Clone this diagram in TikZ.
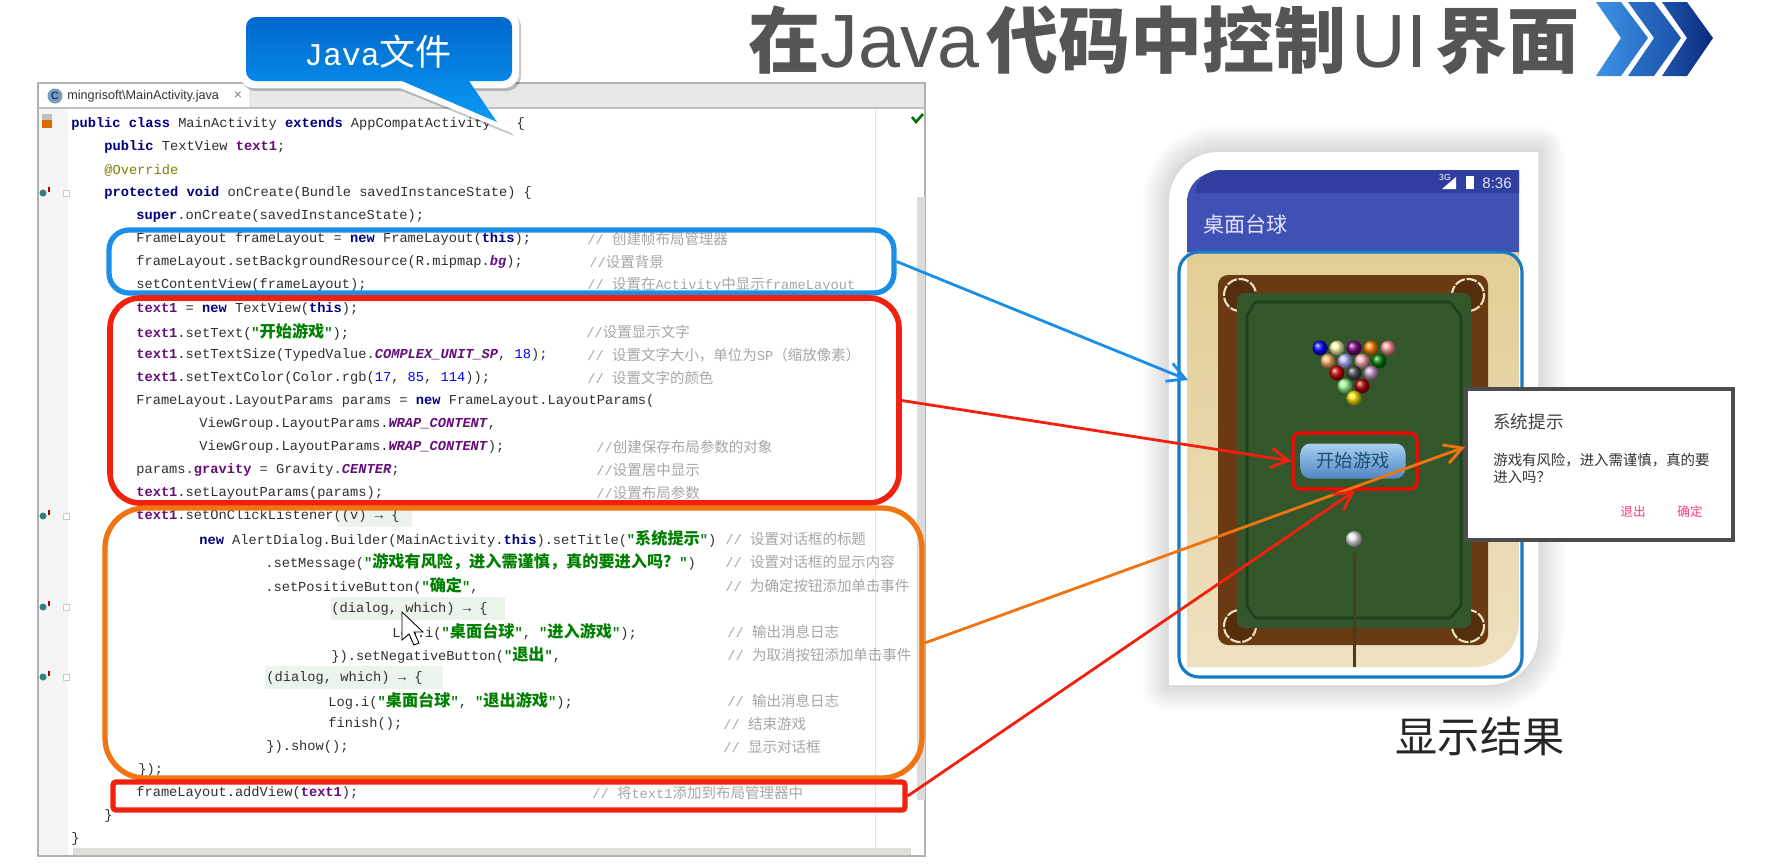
\documentclass[tikz,border=0pt]{standalone}
\usepackage{fontspec}
\setmainfont{Liberation Sans}
\setmonofont{Liberation Mono}
\newfontfamily\cjk{Noto Sans CJK SC}
\usetikzlibrary{arrows.meta,fit}

\definecolor{codekw}{HTML}{000080}
\definecolor{codefld}{HTML}{660E7A}
\definecolor{codestr}{HTML}{008000}
\definecolor{codenum}{HTML}{0000FF}
\definecolor{codenote}{HTML}{A6A6A6}
\definecolor{codeanno}{HTML}{808000}
\definecolor{codeink}{HTML}{303030}
\definecolor{bluebox}{HTML}{1A8FE8}
\definecolor{redbox}{HTML}{F2200F}
\definecolor{orangebox}{HTML}{F0740F}
\definecolor{titlegrey}{HTML}{555555}
\definecolor{wood}{HTML}{6A3A12}
\definecolor{felt}{HTML}{33572B}
\definecolor{feltdark}{HTML}{1E3F1B}
\definecolor{sand}{HTML}{E3CD96}
\definecolor{appbar}{HTML}{3F51B5}
\definecolor{statusbar}{HTML}{303F9F}
\definecolor{cuestick}{HTML}{4A3A22}
\definecolor{chevA}{HTML}{3D92E6}
\definecolor{chevB}{HTML}{2A70C8}
\definecolor{chevC}{HTML}{1D55AC}
\definecolor{chevD}{HTML}{0B2A7C}
\definecolor{calloutTop}{HTML}{0068CC}
\definecolor{calloutLow}{HTML}{0A9AF5}
\definecolor{btnTop}{HTML}{A8CFF0}
\definecolor{btnLow}{HTML}{4F86C4}
\definecolor{btnInk}{HTML}{1B4E72}
\definecolor{dlgpink}{HTML}{FF4081}

\newcommand{\kw}[1]{\textcolor{codekw}{\textbf{#1}}}
\newcommand{\fd}[1]{\textcolor{codefld}{\textbf{#1}}}
\newcommand{\fdi}[1]{\textcolor{codefld}{\textbf{\textit{#1}}}}
\newcommand{\nm}[1]{\textcolor{codenum}{#1}}
\newcommand{\st}[1]{\textcolor{codestr}{\textbf{"{\fontsize{9.2}{10}\cjk\bfseries #1}"}}}
\newcommand{\zc}[1]{{\fontsize{8.25}{10}\cjk #1}}
\newcommand{\phoneoutline}{(1169,685) [rounded corners=1cm] -- (1169,152) [sharp corners] -- (1538,152) [rounded corners=1cm] -- (1538,685) [sharp corners] -- cycle}
\newcommand{\calloutoutline}{(402,81) [rounded corners=0.2cm] -- (246,81) -- (246,17) -- (512,17) -- (512,81) [sharp corners] -- (469,81) -- (497,122) -- cycle}
\newcommand{\calloutframe}{(400,88) [rounded corners=0.3cm] -- (239,88) -- (239,9) -- (519,9) -- (519,88) [sharp corners] -- (469,88) -- (512,133) -- cycle}

\tikzset{
  code/.style={anchor=west, inner sep=0pt, text=codeink, font=\fontsize{7.8}{10}\ttfamily},
  note/.style={anchor=west, inner sep=0pt, text=codenote, font=\fontsize{7.8}{10}\ttfamily},
  box/.style={draw, inner sep=0pt, fill=none},
  flow/.style={-{Straight Barb[length=10pt,width=11pt,line width=1.6pt]}, line width=1.6pt},
  gutterdot/.style={circle, fill=teal!60!gray, inner sep=0pt, minimum size=4pt},
  ball/.style={circle, inner sep=0pt, minimum size=8.5pt, shade, draw=none},
}

\begin{document}
\begin{tikzpicture}[x=0.02cm,y=-0.02cm]
    \useasboundingbox (0,0) rectangle (1768,867);
    % page title
    \node[anchor=west, inner sep=0pt, text=titlegrey, font=\fontsize{41}{44}\selectfont] (pagetitle) at (748,40)
        {{\cjk\bfseries 在}\fontsize{43}{44}\selectfont Java\kern3.5pt{\fontsize{41}{44}\cjk\bfseries 代码中控制}\kern3pt UI\kern5pt{\fontsize{41}{44}\cjk\bfseries 界面}};
    \shade[left color=chevA, right color=chevB]
        (1596,2) -- (1621,2) -- (1648,38) -- (1621,76) -- (1596,76) -- (1621,38) -- cycle;
    \shade[left color=chevB, right color=chevC]
        (1628,2) -- (1654,2) -- (1681,38) -- (1654,76) -- (1628,76) -- (1654,38) -- cycle;
    \shade[left color=chevC, right color=chevD]
        (1662,2) -- (1687,2) -- (1713,38) -- (1687,76) -- (1662,76) -- (1687,38) -- cycle;

    % editor window
    \draw[gray!60, line width=1pt, fill=white] (38,83) rectangle (925,856);
    \fill[black!9] (249,84) rectangle (924,107);
    \draw[gray!50, line width=1pt] (38,108) -- (925,108);
    \fill[black!4] (39,109) rectangle (68,855);
    \draw[black!10] (875,109) -- (875,848);
    \fill[black!14] (917,197) rectangle (924.5,800);
    \fill[yellow!10!black!16] (73,848) rectangle (911,855);
    \draw[green!45!black, line width=1.5pt] (912,117) -- (916,122) -- (923,114);
    \fill[cyan!35!gray] (55,96) circle (7.5);
    \node[inner sep=0pt, text=blue!50!black, font=\fontsize{6}{7}\selectfont] (tabicon) at (55,96) {C};
    \node[anchor=west, inner sep=0pt, text=black!80, font=\fontsize{7.2}{9}\selectfont] (tabname) at (67,96) {mingrisoft\textbackslash MainActivity.java};
    \node[inner sep=0pt, text=gray, font=\fontsize{8}{9}\selectfont] (tabclose) at (238,96) {×};

    % gutter marks
    \fill[gray!50] (42,114) rectangle (52,120);
    \fill[orange!85!black] (42,120) rectangle (52,128);
    \node[gutterdot] (mark3) at (43,193) {};
    \node[gutterdot] (mark17) at (43,516) {};
    \node[gutterdot] (mark21) at (43,607) {};
    \node[gutterdot] (mark24) at (43,677) {};
    \foreach \y in {193,516,607,677} {
        \draw[red!70!black, line width=0.6pt] (49,\y-6) -- (49,\y-1);
        \draw[black!20, fill=white] (63,\y-3) rectangle (69,\y+3);
    }

    % lambda highlights
    \fill[green!30!gray!12] (338,506) rectangle (412,527);
    \fill[green!30!gray!12] (331,597) rectangle (505,620);
    \fill[green!30!gray!12] (265,666) rectangle (443,689);

    % code
    \node[code] (line0) at (71,124) {\kw{public class} MainActivity \kw{extends} AppCompatActivity \kern10pt\{};
    \node[code] (line1) at (104,147) {\kw{public} TextView \fd{text1};};
    \node[code, text=codeanno] (line2) at (104,170) {@Override};
    \node[code] (line3) at (104,193) {\kw{protected void} onCreate(Bundle savedInstanceState) \{};
    \node[code] (line4) at (136,216) {\kw{super}.onCreate(savedInstanceState);};
    \node[code] (line5) at (136,239) {FrameLayout frameLayout = \kw{new} FrameLayout(\kw{this});};
    \node[code] (line6) at (136,262) {frameLayout.setBackgroundResource(R.mipmap.\fdi{bg});};
    \node[code] (line7) at (136,285) {setContentView(frameLayout);};
    \node[code] (line8) at (136,308.5) {\fd{text1} = \kw{new} TextView(\kw{this});};
    \node[code] (line9) at (136,331.6) {\fd{text1}.setText(\st{开始游戏});};
    \node[code] (line10) at (136,354.7) {\fd{text1}.setTextSize(TypedValue.\fdi{COMPLEX\_UNIT\_SP}, \nm{18});};
    \node[code] (line11) at (136,377.8) {\fd{text1}.setTextColor(Color.rgb(\nm{17}, \nm{85}, \nm{114}));};
    \node[code] (line12) at (136,400.8) {FrameLayout.LayoutParams params = \kw{new} FrameLayout.LayoutParams(};
    \node[code] (line13) at (199,424) {ViewGroup.LayoutParams.\fdi{WRAP\_CONTENT},};
    \node[code] (line14) at (199,447) {ViewGroup.LayoutParams.\fdi{WRAP\_CONTENT});};
    \node[code] (line15) at (136,470) {params.\fd{gravity} = Gravity.\fdi{CENTER};};
    \node[code] (line16) at (136,493) {\fd{text1}.setLayoutParams(params);};
    \node[code] (line17) at (136,516) {\fd{text1}.setOnClickListener((v) → \{};
    \node[code] (line18) at (199,539) {\kw{new} AlertDialog.Builder(MainActivity.\kw{this}).setTitle(\st{系统提示})};
    \node[code] (line19) at (265,562) {.setMessage(\st{游戏有风险，进入需谨慎，真的要进入吗？})};
    \node[code] (line20) at (265,585.5) {.setPositiveButton(\st{确定},};
    \node[code] (line21) at (331,608.5) {(dialog, which) → \{};
    \node[code] (line22) at (392,631.5) {Log.i(\st{桌面台球}, \st{进入游戏});};
    \node[code] (line23) at (331,654.6) {\}).setNegativeButton(\st{退出},};
    \node[code] (line24) at (266,677.7) {(dialog, which) → \{};
    \node[code] (line25) at (328,700.8) {Log.i(\st{桌面台球}, \st{退出游戏});};
    \node[code] (line26) at (328,723.8) {finish();};
    \node[code] (line27) at (266,747) {\}).show();};
    \node[code] (line28) at (138,770) {\});};
    \node[code] (line29) at (136,793) {frameLayout.addView(\fd{text1});};
    \node[code] (line30) at (104,816) {\}};
    \node[code] (line31) at (71,839) {\}};

    % comments
    \node[note] (note5) at (587,239) {// \zc{创建帧布局管理器}};
    \node[note] (note6) at (589,262) {//\zc{设置背景}};
    \node[note] (note7) at (587,285) {// \zc{设置在}Activity\zc{中显示}frameLayout};
    \node[note] (note9) at (586,331.6) {//\zc{设置显示文字}};
    \node[note] (note10) at (587,354.7) {// \zc{设置文字大小，单位为}SP\zc{（缩放像素）}};
    \node[note] (note11) at (587,377.8) {// \zc{设置文字的颜色}};
    \node[note] (note14) at (596,447) {//\zc{创建保存布局参数的对象}};
    \node[note] (note15) at (596,470) {//\zc{设置居中显示}};
    \node[note] (note16) at (596,493) {//\zc{设置布局参数}};
    \node[note] (note18) at (725,539) {// \zc{设置对话框的标题}};
    \node[note] (note19) at (725,562) {// \zc{设置对话框的显示内容}};
    \node[note] (note20) at (725,585.5) {// \zc{为确定按钮添加单击事件}};
    \node[note] (note22) at (727,631.5) {// \zc{输出消息日志}};
    \node[note] (note23) at (727,654.6) {// \zc{为取消按钮添加单击事件}};
    \node[note] (note25) at (727,700.8) {// \zc{输出消息日志}};
    \node[note] (note26) at (723,723.8) {// \zc{结束游戏}};
    \node[note] (note27) at (723,747) {// \zc{显示对话框}};
    \node[note] (note29) at (592,793) {// \zc{将}text1\zc{添加到布局管理器中}};

    % code frames
    \node[box, fit={(109,230) (894,293)}, draw=bluebox, line width=3pt, rounded corners=0.4cm] (framebox) {};
    \node[box, fit={(110,298) (899,503)}, draw=redbox, line width=3.2pt, rounded corners=0.6cm] (textbox) {};
    \node[box, fit={(105,508) (922,778)}, draw=orangebox, line width=3pt, rounded corners=0.8cm] (clickbox) {};
    \node[box, fit={(113,782) (905,810)}, draw=redbox, line width=3pt, rounded corners=0.06cm] (addbox) {};

    % mouse pointer
    \draw[black, fill=white, line width=0.5pt] (402,612) -- (402,640) -- (409,634) -- (414,645) -- (419,643) -- (414,632) -- (423,632) -- cycle;

    % callout
    \fill[shift={(2,3)}, black, opacity=.22] \calloutframe;
    \fill[white] \calloutframe;
    \shade[top color=calloutTop, bottom color=calloutLow] \calloutoutline;
    \node[inner sep=0pt, text=white] (javafile) at (378,52) {\fontsize{18}{20}\ttfamily Java{\fontsize{20.5}{22}\cjk 文件}};

    % phone
    \foreach \w in {5,10,...,60}
        \draw[black, opacity=.012, line width=\w*0.5pt, line join=round] \phoneoutline;
    \fill[white] \phoneoutline;
    \shade[top color=sand, bottom color=sand!60!white] (1187,252) -- (1519,252) -- (1519,620) [rounded corners=0.9cm] -- (1519,667) [sharp corners] -- (1187,667) -- cycle;
    \fill[appbar] (1187,252) -- (1187,225) [rounded corners=0.6cm] -- (1187,172) [sharp corners] -- (1519,172) -- (1519,252) -- cycle;
    \fill[statusbar] (1195,193) [rounded corners=0.5cm] -- (1195,170) [sharp corners] -- (1519,170) -- (1519,193) -- cycle;
    \node[anchor=west, inner sep=0pt, text=white!90!blue, font=\fontsize{12}{14}\cjk] (apptitle) at (1203,224) {桌面台球};
    \node[inner sep=0pt, text=white, font=\fontsize{5}{6}\selectfont] (netlabel) at (1445,177) {3G};
    \fill[white] (1442,189) -- (1456,177) -- (1456,189) -- cycle;
    \fill[white] (1466,176) rectangle (1474,189);
    \node[anchor=west, inner sep=0pt, text=white!90!blue, font=\fontsize{8.6}{10}\selectfont] (clock) at (1482,183) {8:36};

    % pool table
    \fill[wood, rounded corners=0.2cm] (1218,275) rectangle (1488,645);
    \shade[left color=wood, middle color=wood!70!orange!90!white, right color=wood] (1260,277) rectangle (1450,293);
    \shade[left color=wood, middle color=wood!70!orange!90!white, right color=wood] (1260,628) rectangle (1450,643);
    \foreach \px/\py in {1240/295,1468/295,1240/626,1468/626}
        \draw[sand!60!white, fill=wood!80!black, line width=1.2pt, dash pattern=on 6pt off 1pt] (\px,\py) circle (16);
    \fill[felt, rounded corners=0.15cm] (1237,293) rectangle (1471,628);
    \draw[feltdark, line width=1.5pt] (1255,302) -- (1450,302) -- (1461,316) -- (1461,606) -- (1450,618) -- (1255,618) -- (1247,606) -- (1247,316) -- cycle;
    \foreach \bx/\by/\bc in {1320/348/blue,1337/348/yellow!30!white,1354/348/violet,1371/348/orange,1388/348/red!40!white,
        1328/361/orange!60!white,1345/361/blue!30!white,1362/361/red!30!white,1379/361/green!50!black,
        1337/373/red!80!black,1354/373/black!70,1371/373/violet!40!white,
        1345/386/green!40!white,1362/386/red!70!black,1354/398/yellow!80!orange}
        \node[ball, ball color=\bc] at (\bx,\by) {};
    \node[ball, minimum size=9pt, ball color=white!85!gray] (cueball) at (1354,539) {};
    \draw[cuestick, line width=1.7pt] (1354,553) -- (1354,667);

    % start button
    \node[box, fit={(1293,433) (1417,489)}, draw=gray!70, line width=1pt, rounded corners=0.12cm] (startframe) {};
    \node[inner sep=0pt, rounded corners=0.2cm, minimum width=2.1cm, minimum height=0.7cm, top color=btnTop, bottom color=btnLow, text=btnInk, font=\fontsize{10.4}{12}\cjk] (startbtn) at (1353,461) {开始游戏};
    \node[box, fit={(1293,433) (1417,489)}, draw=red, line width=1.8pt, rounded corners=0.14cm] (startbox) {};

    % phone content frame
    \node[box, fit={(1179,252) (1522,677)}, draw=bluebox!85!black, line width=1.8pt, rounded corners=0.4cm] (tablebox) {};

    % dialog
    \node[fit={(1466,389) (1733,540)}, inner sep=0pt, draw=black!70, fill=white, line width=2pt] (dialog) {};
    \node[anchor=west, inner sep=0pt, text=black!75, font=\fontsize{10}{12}\cjk] (dlgtitle) at (1493,422) {系统提示};
    \node[anchor=west, inner sep=0pt, text=black!80, font=\fontsize{8.2}{10}\cjk] (dlgmsg1) at (1493,460) {游戏有风险，进入需谨慎，真的要};
    \node[anchor=west, inner sep=0pt, text=black!80, font=\fontsize{8.2}{10}\cjk] (dlgmsg2) at (1493,477) {进入吗？};
    \node[inner sep=0pt, text=dlgpink, font=\fontsize{7.2}{9}\cjk] (dlgquit) at (1633,512) {退出};
    \node[inner sep=0pt, text=dlgpink, font=\fontsize{7.2}{9}\cjk] (dlgok) at (1690,512) {确定};

    % result caption
    \node[inner sep=0pt, text=black!85, font=\fontsize{24}{26}\cjk] (result) at (1480,736) {显示结果};

    % connectors
    \coordinate (tabletip) at (1188,380);
    \coordinate (dialogtip) at (1465,447);
    \draw[flow, bluebox] (framebox.east) -- (tabletip);
    \draw[flow, redbox] (textbox.east) -- (startbox.west);
    \draw[flow, orangebox] (clickbox.east) -- (dialogtip);
    \draw[flow, redbox] (addbox.east) -- (startbox.south);
\end{tikzpicture}
\end{document}
